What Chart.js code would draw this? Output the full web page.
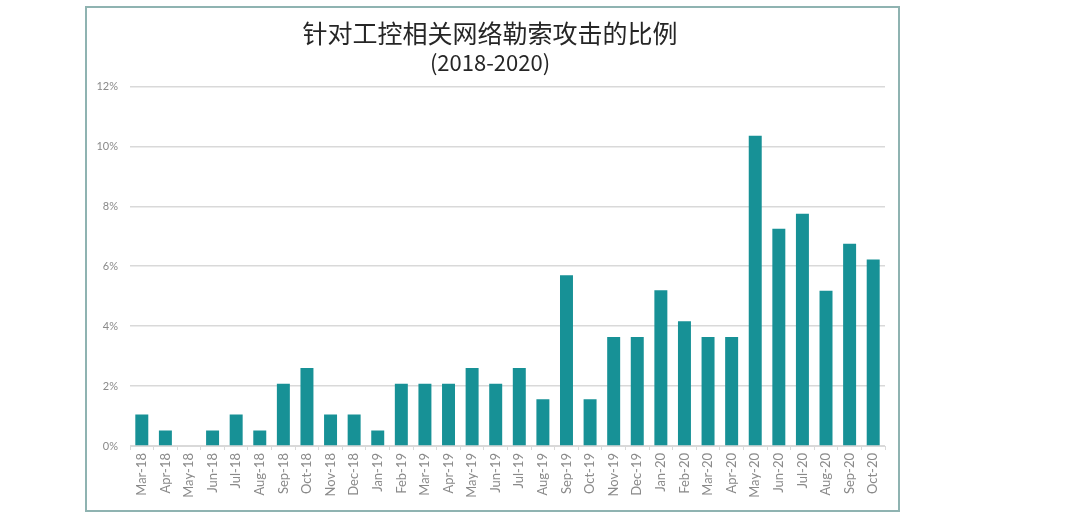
<!DOCTYPE html>
<html>
<head>
<meta charset="utf-8">
<script src="https://cdn.jsdelivr.net/npm/chart.js@4.4.1/dist/chart.umd.min.js"></script>
<style>
    html, body { margin: 0; padding: 0; background: #fff; }
    body { width: 1067px; height: 515px; position: relative; overflow: hidden; }
    #box {
        position: absolute;
        left: 85px; top: 6px;
        width: 811px; height: 502px;
        border: 2px solid #8fb3b1;
        background: #fff;
    }
</style>
</head>
<body>
<div id="box"><canvas id="ransomChart"></canvas></div>
<script>
// months on the x axis (Mar-18 .. Oct-20)
const months = [
    'Mar-18', 'Apr-18', 'May-18', 'Jun-18', 'Jul-18', 'Aug-18', 'Sep-18', 'Oct-18',
    'Nov-18', 'Dec-18', 'Jan-19', 'Feb-19', 'Mar-19', 'Apr-19', 'May-19', 'Jun-19',
    'Jul-19', 'Aug-19', 'Sep-19', 'Oct-19', 'Nov-19', 'Dec-19', 'Jan-20', 'Feb-20',
    'Mar-20', 'Apr-20', 'May-20', 'Jun-20', 'Jul-20', 'Aug-20', 'Sep-20', 'Oct-20'
];

// share of ICS-related ransomware attacks, in percent
const sharePct = [
    1.05, 0.52, 0, 0.52, 1.05, 0.52, 2.08, 2.6,
    1.05, 1.05, 0.52, 2.08, 2.08, 2.08, 2.6, 2.08,
    2.6, 1.56, 5.7, 1.56, 3.64, 3.64, 5.2, 4.16,
    3.64, 3.64, 10.35, 7.25, 7.75, 5.18, 6.75, 6.22
];

const yTicks = [0, 2, 4, 6, 8, 10, 12];

const titleText = '针对工控相关网络勒索攻击的比例';
const subtitleText = '(2018-2020)';

const tickColor = '#8a8a8a';
const gridColor = '#d9d9d9';
const barColor = '#179196';

const canvas = document.getElementById('ransomChart');
canvas.width = 811;
canvas.height = 502;

new Chart(canvas.getContext('2d'), {
    type: 'bar',
    data: {
        labels: months,
        datasets: [{
            data: sharePct,
            backgroundColor: barColor,
            borderWidth: 0,
            barPercentage: 0.55,
            categoryPercentage: 1.0
        }]
    },
    options: {
        responsive: false,
        animation: false,
        layout: {
            padding: { left: 8, right: 13, top: 0, bottom: 2 }
        },
        plugins: {
            legend: { display: false },
            tooltip: { enabled: false },
            title: {
                display: true,
                text: titleText,
                color: '#262626',
                font: { family: '"Noto Sans CJK SC", sans-serif', size: 25, weight: 'normal' },
                padding: { top: 10, bottom: 1 }
            },
            subtitle: {
                display: true,
                text: subtitleText,
                color: '#262626',
                font: { family: '"Noto Sans CJK SC", sans-serif', size: 22, weight: 'normal' },
                padding: { top: 0, bottom: 11 }
            }
        },
        scales: {
            x: {
                grid: {
                    display: true,
                    drawOnChartArea: false,
                    drawTicks: true,
                    tickLength: 4,
                    color: gridColor,
                    offset: true
                },
                border: { color: gridColor },
                ticks: {
                    color: tickColor,
                    font: { family: 'Lato, sans-serif', size: 13 },
                    minRotation: 90,
                    maxRotation: 90,
                    autoSkip: false,
                    padding: 3
                },
                afterFit: (scale) => { scale.height = 62; }
            },
            y: {
                min: 0,
                max: 12,
                afterBuildTicks: (scale) => {
                    scale.ticks = yTicks.map(v => ({ value: v }));
                },
                grid: {
                    color: gridColor,
                    lineWidth: 1.5,
                    drawTicks: false
                },
                border: { display: false },
                ticks: {
                    color: tickColor,
                    font: { family: 'Lato, sans-serif', size: 11 },
                    padding: 12,
                    callback: (v) => v + '%'
                },
                afterFit: (scale) => { scale.width = 35; }
            }
        }
    }
});
</script>
</body>
</html>
